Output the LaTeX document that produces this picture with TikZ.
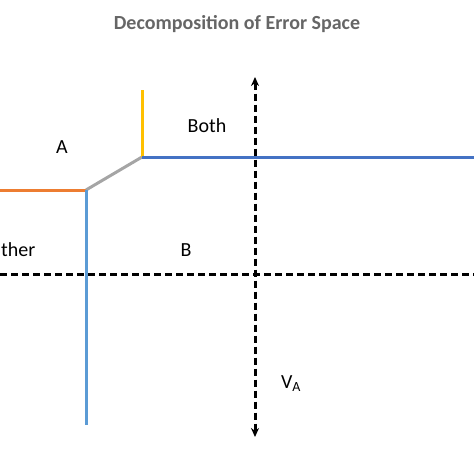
\documentclass[tikz,border=0pt]{standalone}
\usepackage{fontspec}
\setmainfont{Carlito}
\usetikzlibrary{arrows.meta}
\definecolor{corange}{HTML}{ED7D31}
\definecolor{cyellow}{HTML}{FFC000}
\definecolor{cgray}{HTML}{A5A5A5}
\definecolor{cblue}{HTML}{4472C4}
\definecolor{clblue}{HTML}{5B9BD5}
\definecolor{ctitle}{HTML}{666666}
\tikzset{
  seg/.style={line width=3pt},
  axisline/.style={line width=3pt, black, dash pattern=on 7pt off 4pt},
  lbl/.style={font=\fontsize{20}{24}\selectfont, inner sep=0pt}
}
\begin{document}
\begin{tikzpicture}[x=1pt,y=-1pt]
\useasboundingbox (0,0) rectangle (474,474);
\node[font=\fontsize{20}{24}\selectfont\bfseries, text=ctitle] (title) at (237,24) {Decomposition of Error Space};
\coordinate (o1) at (0,190);
\coordinate (k1) at (86,190);
\coordinate (k2) at (142,157);
\coordinate (y1) at (142,90);
\coordinate (b1) at (474,157);
\coordinate (lb) at (86,425);
\coordinate (h1) at (0,274);
\coordinate (h2) at (474,274);
\coordinate (v1) at (255,77);
\coordinate (v2) at (255,437);
\draw[axisline] (h1) -- (h2);
\draw[seg, corange] (o1) -- (k1);
\draw[seg, cgray] (k1) -- (k2);
\draw[seg, cyellow] (y1) -- (k2);
\draw[seg, cblue] (k2) -- (b1);
\draw[seg, clblue] (k1) -- (lb);
\draw[axisline, {Stealth[length=9pt,width=8pt]}-{Stealth[length=9pt,width=8pt]}] (v1) -- (v2);
\node[lbl] (a) at (62,147) {A};
\node[lbl] (both) at (207,126) {Both};
\node[lbl, anchor=west] (neither) at (1,250) {ther};
\node[lbl] (b) at (186,250) {B};
\node[lbl] (va) at (291,384) {V\textsubscript{A}};
\end{tikzpicture}
\end{document}
